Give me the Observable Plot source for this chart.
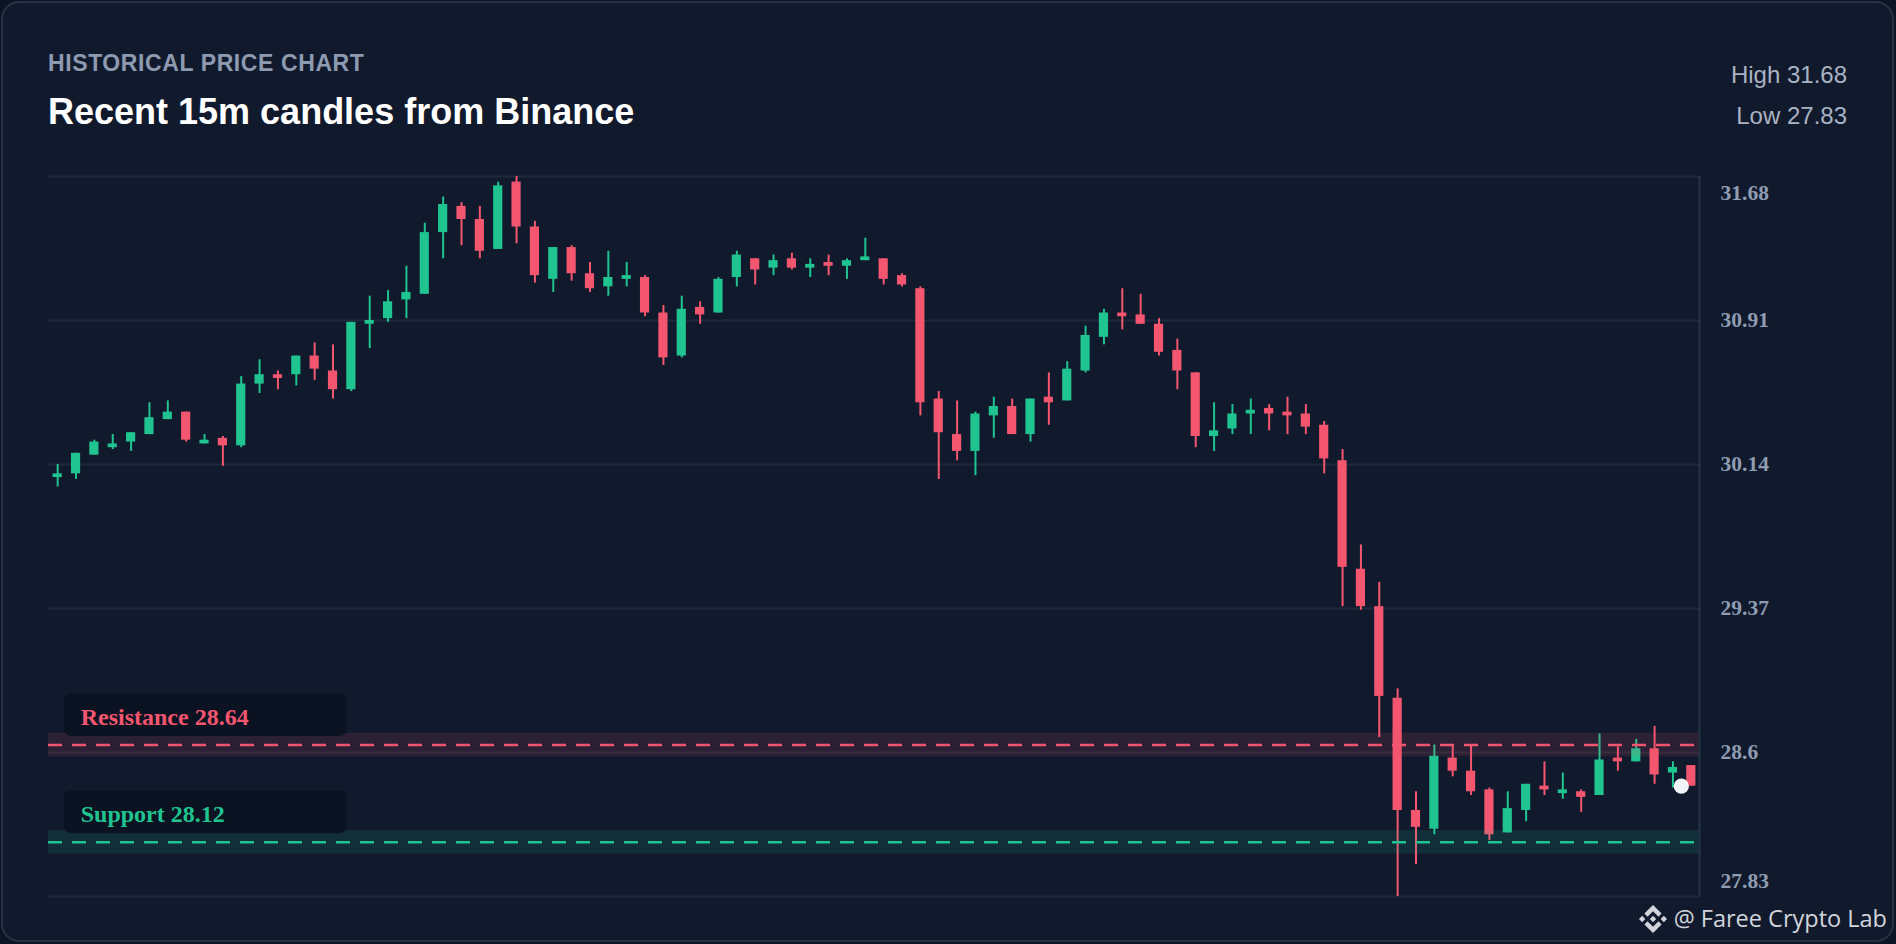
<!DOCTYPE html>
<html>
<head>
<meta charset="utf-8">
<script src="https://cdn.jsdelivr.net/npm/d3@7"></script>
<script src="https://cdn.jsdelivr.net/npm/@observablehq/plot@0.6"></script>
<style>
html,body{margin:0;padding:0;width:1896px;height:944px;overflow:hidden;background:#0c1322;}
#card{position:absolute;left:1px;top:1px;width:1893px;height:941px;box-sizing:border-box;border:2px solid #253246;border-radius:18px;background:#111a2d;}
#chart{position:absolute;left:0;top:0;}
.hdr{position:absolute;line-height:1;white-space:nowrap;font-family:"Liberation Sans",Arial,Helvetica,sans-serif;}
#kicker{left:48px;top:52px;font-size:23px;font-weight:700;letter-spacing:0.6px;color:#8d9ab0;}
#title{left:48px;top:93.5px;font-size:36px;font-weight:700;color:#ffffff;}
#hi{right:49px;top:63px;font-size:24px;color:#a9b3c3;text-align:right;}
#lo{right:49px;top:103.7px;font-size:24px;color:#a9b3c3;text-align:right;}
#footer{position:absolute;right:9px;top:905px;height:28px;display:flex;align-items:center;gap:7px;color:#d1d5db;font-family:"Open Sans","Noto Sans",sans-serif;font-size:23.5px;line-height:1;white-space:nowrap;}
#footer svg{width:28px;height:28px;}
</style>
</head>
<body>
<div id="card"></div>
<div id="chart"></div>
<div class="hdr" id="kicker">HISTORICAL PRICE CHART</div>
<div class="hdr" id="title">Recent 15m candles from Binance</div>
<div class="hdr" id="hi"></div>
<div class="hdr" id="lo"></div>
<div id="footer">
<svg viewBox="0 0 126.61 126.61"><path fill="#d1d5db" d="M38.730 53.2l24.59-24.58 24.6 24.6 14.3-14.31L63.32 0 24.43 38.9l14.3 14.3zM0 63.31l14.3-14.31 14.31 14.31-14.31 14.3zm38.73 10.1l24.59 24.59 24.6-24.6 14.31 14.29-38.9 38.91-38.91-38.88-.02-.02 14.33-14.29zm59.26-10.1l14.3-14.31 14.32 14.31-14.31 14.3zm-20.16-.01h.01l-14.51-14.52-10.73 10.73-1.23 1.23-2.54 2.54-.02.02.02.02 14.5 14.5 14.51-14.520.01-.01-.02-.01z"/></svg>
<span>@ Faree Crypto Lab</span>
</div>
<script>
// ---- data (15m candles) ----
const open  = [30.07,30.09,30.19,30.23,30.26,30.30,30.38,30.42,30.25,30.28,
               30.24,30.57,30.62,30.62,30.72,30.64,30.54,30.89,30.92,31.02,
               31.05,31.38,31.52,31.45,31.29,31.65,31.41,31.13,31.30,31.16,
               31.09,31.13,31.14,30.95,30.72,30.98,30.95,31.14,31.24,31.19,
               31.24,31.19,31.22,31.20,31.23,31.24,31.15,31.08,30.49,30.30,
               30.21,30.40,30.45,30.30,30.50,30.48,30.64,30.82,30.95,30.94,
               30.89,30.75,30.63,30.29,30.33,30.41,30.44,30.42,30.41,30.35,
               30.16,29.58,29.38,28.89,28.29,28.19,28.57,28.50,28.40,28.17,
               28.29,28.42,28.38,28.39,28.37,28.57,28.55,28.62,28.49,28.53];
const high  = [30.14,30.20,30.27,30.30,30.31,30.47,30.48,30.42,30.30,30.29,
               30.61,30.70,30.64,30.72,30.79,30.78,30.90,31.04,31.07,31.20,
               31.43,31.57,31.54,31.52,31.65,31.68,31.44,31.30,31.31,31.22,
               31.28,31.22,31.15,30.99,31.04,31.01,31.14,31.28,31.24,31.26,
               31.27,31.24,31.26,31.24,31.35,31.24,31.16,31.09,30.53,30.48,
               30.42,30.50,30.49,30.49,30.63,30.69,30.88,30.97,31.08,31.05,
               30.92,30.81,30.63,30.47,30.46,30.49,30.46,30.50,30.46,30.37,
               30.22,29.71,29.51,28.94,28.39,28.64,28.64,28.64,28.41,28.39,
               28.43,28.55,28.49,28.40,28.70,28.63,28.67,28.74,28.55,28.53];
const low   = [30.02,30.06,30.19,30.22,30.21,30.30,30.38,30.26,30.25,30.13,
               30.23,30.52,30.54,30.56,30.59,30.49,30.53,30.76,30.90,30.92,
               31.05,31.24,31.31,31.24,31.29,31.32,31.11,31.06,31.12,31.06,
               31.04,31.09,30.93,30.67,30.71,30.89,30.95,31.09,31.10,31.15,
               31.18,31.14,31.15,31.13,31.23,31.10,31.09,30.40,30.06,30.16,
               30.08,30.28,30.30,30.26,30.35,30.48,30.63,30.78,30.86,30.89,
               30.72,30.54,30.23,30.21,30.30,30.30,30.32,30.30,30.30,30.09,
               29.38,29.36,28.68,27.83,28.00,28.16,28.47,28.37,28.13,28.17,
               28.23,28.37,28.35,28.28,28.37,28.50,28.55,28.43,28.41,28.42];
const close = [30.09,30.20,30.26,30.25,30.31,30.39,30.42,30.27,30.27,30.24,
               30.57,30.62,30.60,30.72,30.65,30.54,30.90,30.91,31.01,31.06,
               31.38,31.53,31.45,31.28,31.63,31.41,31.15,31.30,31.16,31.08,
               31.14,31.15,30.95,30.71,30.97,30.94,31.13,31.26,31.18,31.23,
               31.19,31.21,31.20,31.23,31.25,31.13,31.10,30.47,30.31,30.21,
               30.41,30.45,30.30,30.49,30.47,30.65,30.83,30.95,30.93,30.89,
               30.74,30.64,30.29,30.32,30.41,30.43,30.41,30.40,30.34,30.17,
               29.59,29.38,28.90,28.29,28.20,28.58,28.50,28.39,28.16,28.30,
               28.43,28.40,28.40,28.36,28.56,28.55,28.62,28.48,28.52,28.42];
const yTicks      = [31.68, 30.91, 30.14, 29.37, 28.6, 27.83];
const yTickLabels = ["31.68", "30.91", "30.14", "29.37", "28.6", "27.83"];
const levelNames  = ["Resistance", "Support"];
const levelValues = [28.64, 28.12];
const zoneHalfWidth = 0.063;

// ---- styles ----
const UP = "#20c490", DOWN = "#f4566f";
const levelColors = [DOWN, UP];

const candles = open.map((o, i) => ({i, open: o, high: high[i], low: low[i], close: close[i], up: close[i] >= o}));
const levels = levelNames.map((n, k) => ({name: n, value: levelValues[k], color: levelColors[k]}));
const ticks = yTicks.map((v, k) => ({v, label: yTickLabels[k], k}));
const last = candles[candles.length - 1];
const hi = d3.max(high), lo = d3.min(low);

document.getElementById("hi").textContent = "High " + hi.toFixed(2);
document.getElementById("lo").textContent = "Low " + lo.toFixed(2);

const tickFont = {fontFamily: "'Liberation Serif','Times New Roman',serif", fontWeight: "bold", fontSize: 21.5, fill: "#8f9cb2"};

function labelBoxes(index, scales, values, dims) {
  const g = d3.create("svg:g");
  for (const L of levels) {
    const y = scales.y(L.value);
    g.append("rect").attr("x", dims.marginLeft + 16).attr("y", y - 51.6)
      .attr("width", 283).attr("height", 43).attr("rx", 7).attr("fill", "#0b1221");
    g.append("text").attr("x", dims.marginLeft + 32.7).attr("y", y - 19.6)
      .attr("text-anchor", "start")
      .attr("fill", L.color).attr("font-family", "'Liberation Serif','Times New Roman',serif")
      .attr("font-weight", "bold").attr("font-size", 24)
      .text(`${L.name} ${L.value.toFixed(2)}`);
  }
  return g.node();
}
function axisLine(index, scales, values, dims) {
  const x = dims.width - dims.marginRight - 0.5;
  return d3.create("svg:line").attr("x1", x).attr("x2", x)
    .attr("y1", dims.marginTop).attr("y2", dims.height - dims.marginBottom)
    .attr("stroke", "#253246").attr("stroke-width", 2).node();
}

const chart = Plot.plot({
  width: 1896, height: 944,
  marginLeft: 48, marginRight: 196, marginTop: 176, marginBottom: 48,
  style: {background: "transparent", overflow: "visible"},
  x: {type: "band", domain: candles.map(d => d.i), paddingInner: 0.5, paddingOuter: 0.25, axis: null},
  y: {domain: [lo, hi], axis: null},
  marks: [
    Plot.ruleY(yTicks, {stroke: "#1e293b", strokeWidth: 2}),
    Plot.ruleX(candles, {x: "i", y1: "low", y2: "high", stroke: d => d.up ? UP : DOWN, strokeWidth: 2}),
    Plot.barY(candles, {x: "i", y1: "open", y2: "close", fill: d => d.up ? UP : DOWN}),
    Plot.rect(levels, {y1: d => d.value - zoneHalfWidth, y2: d => d.value + zoneHalfWidth, fill: "color", fillOpacity: 0.12}),
    Plot.ruleY(levels, {y: "value", stroke: "color", strokeWidth: 2.5, strokeDasharray: "14 10"}),
    labelBoxes,
    Plot.dot([last], {x: "i", y: "close", r: 7.6, fill: "#f1f4f9", dx: -10}),
    axisLine,
    Plot.text(ticks, {filter: d => d.k > 0 && d.k < yTicks.length - 1, y: "v", text: "label", frameAnchor: "right", dx: 20, textAnchor: "start", lineAnchor: "middle", ...tickFont}),
    Plot.text(ticks, {filter: d => d.k === 0, y: "v", text: "label", frameAnchor: "right", dx: 20, dy: 17, textAnchor: "start", lineAnchor: "middle", ...tickFont}),
    Plot.text(ticks, {filter: d => d.k === yTicks.length - 1, y: "v", text: "label", frameAnchor: "right", dx: 20, dy: -15, textAnchor: "start", lineAnchor: "middle", ...tickFont})
  ]
});
document.getElementById("chart").appendChild(chart);
</script>
</body>
</html>
